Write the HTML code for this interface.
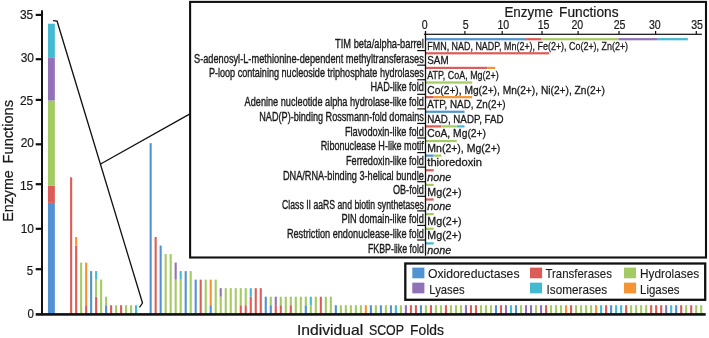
<!DOCTYPE html>
<html><head><meta charset="utf-8"><title>Enzyme functions per SCOP fold</title>
<style>html,body{margin:0;padding:0;background:#fff}svg{display:block}text{font-family:"Liberation Sans",sans-serif;stroke:#1a1a1a;stroke-width:.2px}</style></head>
<body>
<svg width="709" height="338" viewBox="0 0 709 338" fill="#1a1a1a">
<rect width="709" height="338" fill="#fff"/>
<rect x="47.95" y="202.86" width="6.9" height="111.64" fill="#5193D2"/>
<rect x="47.95" y="185.80" width="6.9" height="17.06" fill="#DC5C57"/>
<rect x="47.95" y="100.50" width="6.9" height="85.30" fill="#A4CA63"/>
<rect x="47.95" y="57.85" width="6.9" height="42.65" fill="#9172B7"/>
<rect x="47.95" y="23.73" width="6.9" height="34.12" fill="#43BAD1"/>
<rect x="70.10" y="177.27" width="2.1" height="137.23" fill="#DC5C57"/>
<rect x="75.10" y="245.51" width="2.1" height="68.99" fill="#DC5C57"/>
<rect x="75.10" y="236.98" width="2.1" height="8.53" fill="#F69433"/>
<rect x="80.09" y="262.57" width="2.1" height="51.93" fill="#A4CA63"/>
<rect x="85.09" y="305.22" width="2.1" height="9.28" fill="#DC5C57"/>
<rect x="85.09" y="262.57" width="2.1" height="42.65" fill="#F69433"/>
<rect x="90.08" y="271.10" width="2.1" height="43.40" fill="#5193D2"/>
<rect x="95.08" y="296.69" width="2.1" height="17.81" fill="#DC5C57"/>
<rect x="95.08" y="279.63" width="2.1" height="17.06" fill="#A4CA63"/>
<rect x="95.08" y="271.10" width="2.1" height="8.53" fill="#43BAD1"/>
<rect x="100.07" y="279.63" width="2.1" height="34.87" fill="#A4CA63"/>
<rect x="105.07" y="305.22" width="2.1" height="9.28" fill="#5193D2"/>
<rect x="105.07" y="296.69" width="2.1" height="8.53" fill="#A4CA63"/>
<rect x="110.06" y="305.22" width="2.1" height="9.28" fill="#DC5C57"/>
<rect x="115.06" y="305.22" width="2.1" height="9.28" fill="#A4CA63"/>
<rect x="120.05" y="305.22" width="2.1" height="9.28" fill="#DC5C57"/>
<rect x="125.05" y="305.22" width="2.1" height="9.28" fill="#A4CA63"/>
<rect x="130.04" y="305.22" width="2.1" height="9.28" fill="#A4CA63"/>
<rect x="135.03" y="305.22" width="2.1" height="9.28" fill="#43BAD1"/>
<rect x="149.60" y="143.15" width="2.1" height="171.35" fill="#5193D2"/>
<rect x="154.60" y="236.98" width="2.1" height="77.52" fill="#DC5C57"/>
<rect x="159.61" y="245.51" width="2.1" height="68.99" fill="#5193D2"/>
<rect x="164.62" y="254.04" width="2.1" height="60.46" fill="#A4CA63"/>
<rect x="169.62" y="254.04" width="2.1" height="60.46" fill="#A4CA63"/>
<rect x="174.62" y="279.63" width="2.1" height="34.87" fill="#A4CA63"/>
<rect x="174.62" y="262.57" width="2.1" height="17.06" fill="#9172B7"/>
<rect x="179.63" y="279.63" width="2.1" height="34.87" fill="#A4CA63"/>
<rect x="179.63" y="271.10" width="2.1" height="8.53" fill="#43BAD1"/>
<rect x="184.63" y="271.10" width="2.1" height="43.40" fill="#5193D2"/>
<rect x="189.64" y="271.10" width="2.1" height="43.40" fill="#A4CA63"/>
<rect x="194.64" y="279.63" width="2.1" height="34.87" fill="#5193D2"/>
<rect x="199.65" y="279.63" width="2.1" height="34.87" fill="#DC5C57"/>
<rect x="204.66" y="279.63" width="2.1" height="34.87" fill="#A4CA63"/>
<rect x="209.66" y="305.22" width="2.1" height="9.28" fill="#5193D2"/>
<rect x="209.66" y="279.63" width="2.1" height="25.59" fill="#F69433"/>
<rect x="214.66" y="279.63" width="2.1" height="34.87" fill="#A4CA63"/>
<rect x="219.67" y="296.69" width="2.1" height="17.81" fill="#A4CA63"/>
<rect x="219.67" y="288.16" width="2.1" height="8.53" fill="#9172B7"/>
<rect x="224.68" y="288.16" width="2.1" height="26.34" fill="#A4CA63"/>
<rect x="229.68" y="288.16" width="2.1" height="26.34" fill="#A4CA63"/>
<rect x="234.69" y="288.16" width="2.1" height="26.34" fill="#A4CA63"/>
<rect x="239.69" y="305.22" width="2.1" height="9.28" fill="#DC5C57"/>
<rect x="239.69" y="288.16" width="2.1" height="17.06" fill="#A4CA63"/>
<rect x="244.69" y="305.22" width="2.1" height="9.28" fill="#DC5C57"/>
<rect x="244.69" y="288.16" width="2.1" height="17.06" fill="#A4CA63"/>
<rect x="249.70" y="296.69" width="2.1" height="17.81" fill="#DC5C57"/>
<rect x="249.70" y="288.16" width="2.1" height="8.53" fill="#43BAD1"/>
<rect x="254.70" y="288.16" width="2.1" height="26.34" fill="#DC5C57"/>
<rect x="259.71" y="288.16" width="2.1" height="26.34" fill="#DC5C57"/>
<rect x="264.71" y="296.69" width="2.1" height="17.81" fill="#5193D2"/>
<rect x="269.72" y="305.22" width="2.1" height="9.28" fill="#5193D2"/>
<rect x="269.72" y="296.69" width="2.1" height="8.53" fill="#A4CA63"/>
<rect x="274.72" y="305.22" width="2.1" height="9.28" fill="#DC5C57"/>
<rect x="274.72" y="296.69" width="2.1" height="8.53" fill="#9172B7"/>
<rect x="279.73" y="305.22" width="2.1" height="9.28" fill="#DC5C57"/>
<rect x="279.73" y="296.69" width="2.1" height="8.53" fill="#A4CA63"/>
<rect x="284.73" y="296.69" width="2.1" height="17.81" fill="#A4CA63"/>
<rect x="289.74" y="305.22" width="2.1" height="9.28" fill="#DC5C57"/>
<rect x="289.74" y="296.69" width="2.1" height="8.53" fill="#A4CA63"/>
<rect x="294.75" y="296.69" width="2.1" height="17.81" fill="#A4CA63"/>
<rect x="299.75" y="296.69" width="2.1" height="17.81" fill="#A4CA63"/>
<rect x="304.75" y="305.22" width="2.1" height="9.28" fill="#5193D2"/>
<rect x="304.75" y="296.69" width="2.1" height="8.53" fill="#A4CA63"/>
<rect x="309.76" y="305.22" width="2.1" height="9.28" fill="#A4CA63"/>
<rect x="309.76" y="296.69" width="2.1" height="8.53" fill="#43BAD1"/>
<rect x="314.76" y="296.69" width="2.1" height="17.81" fill="#A4CA63"/>
<rect x="319.77" y="296.69" width="2.1" height="17.81" fill="#DC5C57"/>
<rect x="324.77" y="296.69" width="2.1" height="17.81" fill="#A4CA63"/>
<rect x="329.78" y="296.69" width="2.1" height="17.81" fill="#A4CA63"/>
<rect x="334.79" y="305.22" width="2.1" height="9.28" fill="#5193D2"/>
<rect x="339.79" y="305.22" width="2.1" height="9.28" fill="#A4CA63"/>
<rect x="344.80" y="305.22" width="2.1" height="9.28" fill="#A4CA63"/>
<rect x="349.80" y="305.22" width="2.1" height="9.28" fill="#A4CA63"/>
<rect x="354.81" y="305.22" width="2.1" height="9.28" fill="#A4CA63"/>
<rect x="359.81" y="305.22" width="2.1" height="9.28" fill="#A4CA63"/>
<rect x="364.81" y="305.22" width="2.1" height="9.28" fill="#F69433"/>
<rect x="369.82" y="305.22" width="2.1" height="9.28" fill="#5193D2"/>
<rect x="374.82" y="305.22" width="2.1" height="9.28" fill="#A4CA63"/>
<rect x="379.83" y="305.22" width="2.1" height="9.28" fill="#5193D2"/>
<rect x="384.83" y="305.22" width="2.1" height="9.28" fill="#A4CA63"/>
<rect x="389.84" y="305.22" width="2.1" height="9.28" fill="#5193D2"/>
<rect x="394.84" y="305.22" width="2.1" height="9.28" fill="#43BAD1"/>
<rect x="399.85" y="305.22" width="2.1" height="9.28" fill="#A4CA63"/>
<rect x="404.85" y="305.22" width="2.1" height="9.28" fill="#9172B7"/>
<rect x="409.86" y="305.22" width="2.1" height="9.28" fill="#DC5C57"/>
<rect x="414.86" y="305.22" width="2.1" height="9.28" fill="#DC5C57"/>
<rect x="419.87" y="305.22" width="2.1" height="9.28" fill="#5193D2"/>
<rect x="424.87" y="305.22" width="2.1" height="9.28" fill="#A4CA63"/>
<rect x="429.88" y="305.22" width="2.1" height="9.28" fill="#DC5C57"/>
<rect x="434.88" y="305.22" width="2.1" height="9.28" fill="#A4CA63"/>
<rect x="439.89" y="305.22" width="2.1" height="9.28" fill="#A4CA63"/>
<rect x="444.90" y="305.22" width="2.1" height="9.28" fill="#DC5C57"/>
<rect x="449.90" y="305.22" width="2.1" height="9.28" fill="#A4CA63"/>
<rect x="454.91" y="305.22" width="2.1" height="9.28" fill="#A4CA63"/>
<rect x="459.91" y="305.22" width="2.1" height="9.28" fill="#A4CA63"/>
<rect x="464.92" y="305.22" width="2.1" height="9.28" fill="#9172B7"/>
<rect x="469.92" y="305.22" width="2.1" height="9.28" fill="#DC5C57"/>
<rect x="474.93" y="305.22" width="2.1" height="9.28" fill="#DC5C57"/>
<rect x="479.93" y="305.22" width="2.1" height="9.28" fill="#A4CA63"/>
<rect x="484.94" y="305.22" width="2.1" height="9.28" fill="#A4CA63"/>
<rect x="489.94" y="305.22" width="2.1" height="9.28" fill="#A4CA63"/>
<rect x="494.94" y="305.22" width="2.1" height="9.28" fill="#5193D2"/>
<rect x="499.95" y="305.22" width="2.1" height="9.28" fill="#DC5C57"/>
<rect x="504.95" y="305.22" width="2.1" height="9.28" fill="#9172B7"/>
<rect x="509.96" y="305.22" width="2.1" height="9.28" fill="#43BAD1"/>
<rect x="514.97" y="305.22" width="2.1" height="9.28" fill="#5193D2"/>
<rect x="519.97" y="305.22" width="2.1" height="9.28" fill="#A4CA63"/>
<rect x="524.98" y="305.22" width="2.1" height="9.28" fill="#9172B7"/>
<rect x="529.98" y="305.22" width="2.1" height="9.28" fill="#9172B7"/>
<rect x="534.99" y="305.22" width="2.1" height="9.28" fill="#A4CA63"/>
<rect x="539.99" y="305.22" width="2.1" height="9.28" fill="#9172B7"/>
<rect x="545.00" y="305.22" width="2.1" height="9.28" fill="#DC5C57"/>
<rect x="550.00" y="305.22" width="2.1" height="9.28" fill="#A4CA63"/>
<rect x="555.00" y="305.22" width="2.1" height="9.28" fill="#A4CA63"/>
<rect x="560.01" y="305.22" width="2.1" height="9.28" fill="#A4CA63"/>
<rect x="565.01" y="305.22" width="2.1" height="9.28" fill="#F69433"/>
<rect x="570.02" y="305.22" width="2.1" height="9.28" fill="#DC5C57"/>
<rect x="575.03" y="305.22" width="2.1" height="9.28" fill="#A4CA63"/>
<rect x="580.03" y="305.22" width="2.1" height="9.28" fill="#A4CA63"/>
<rect x="585.04" y="305.22" width="2.1" height="9.28" fill="#A4CA63"/>
<rect x="590.04" y="305.22" width="2.1" height="9.28" fill="#A4CA63"/>
<rect x="595.05" y="305.22" width="2.1" height="9.28" fill="#F69433"/>
<rect x="600.05" y="305.22" width="2.1" height="9.28" fill="#43BAD1"/>
<rect x="605.06" y="305.22" width="2.1" height="9.28" fill="#DC5C57"/>
<rect x="610.06" y="305.22" width="2.1" height="9.28" fill="#5193D2"/>
<rect x="615.07" y="305.22" width="2.1" height="9.28" fill="#43BAD1"/>
<rect x="620.07" y="305.22" width="2.1" height="9.28" fill="#43BAD1"/>
<rect x="625.08" y="305.22" width="2.1" height="9.28" fill="#DC5C57"/>
<rect x="630.08" y="305.22" width="2.1" height="9.28" fill="#A4CA63"/>
<rect x="635.09" y="305.22" width="2.1" height="9.28" fill="#A4CA63"/>
<rect x="640.09" y="305.22" width="2.1" height="9.28" fill="#A4CA63"/>
<rect x="645.10" y="305.22" width="2.1" height="9.28" fill="#A4CA63"/>
<rect x="650.10" y="305.22" width="2.1" height="9.28" fill="#DC5C57"/>
<rect x="655.11" y="305.22" width="2.1" height="9.28" fill="#DC5C57"/>
<rect x="660.11" y="305.22" width="2.1" height="9.28" fill="#DC5C57"/>
<rect x="665.12" y="305.22" width="2.1" height="9.28" fill="#9172B7"/>
<rect x="670.12" y="305.22" width="2.1" height="9.28" fill="#43BAD1"/>
<rect x="675.12" y="305.22" width="2.1" height="9.28" fill="#5193D2"/>
<rect x="680.13" y="305.22" width="2.1" height="9.28" fill="#DC5C57"/>
<rect x="685.13" y="305.22" width="2.1" height="9.28" fill="#A4CA63"/>
<rect x="690.14" y="305.22" width="2.1" height="9.28" fill="#DC5C57"/>
<rect x="695.14" y="305.22" width="2.1" height="9.28" fill="#A4CA63"/>
<rect x="700.15" y="305.22" width="2.1" height="9.28" fill="#A4CA63"/>
<rect x="41" y="10.3" width="2" height="305" fill="#111"/>
<rect x="35.7" y="313.1" width="670" height="2.6" fill="#111"/>
<rect x="35.7" y="268.10" width="6" height="2.2" fill="#111"/>
<rect x="35.7" y="227.70" width="6" height="2.2" fill="#111"/>
<rect x="35.7" y="183.10" width="6" height="2.2" fill="#111"/>
<rect x="35.7" y="143.20" width="6" height="2.2" fill="#111"/>
<rect x="35.7" y="98.80" width="6" height="2.2" fill="#111"/>
<rect x="35.7" y="58.10" width="6" height="2.2" fill="#111"/>
<rect x="35.7" y="13.80" width="6" height="2.2" fill="#111"/>
<text x="27.60" y="318.05" font-size="13" textLength="6.4" lengthAdjust="spacingAndGlyphs">0</text>
<text x="26.80" y="275.35" font-size="13" textLength="6.4" lengthAdjust="spacingAndGlyphs">5</text>
<text x="20.70" y="232.65" font-size="13" textLength="13.3" lengthAdjust="spacingAndGlyphs">10</text>
<text x="19.90" y="189.95" font-size="13" textLength="13.3" lengthAdjust="spacingAndGlyphs">15</text>
<text x="20.70" y="147.25" font-size="13" textLength="13.3" lengthAdjust="spacingAndGlyphs">20</text>
<text x="19.90" y="104.55" font-size="13" textLength="13.3" lengthAdjust="spacingAndGlyphs">25</text>
<text x="20.70" y="61.85" font-size="13" textLength="13.3" lengthAdjust="spacingAndGlyphs">30</text>
<text x="19.90" y="19.15" font-size="13" textLength="13.3" lengthAdjust="spacingAndGlyphs">35</text>
<text transform="translate(12.8,221.8) rotate(-90)" font-size="14.6" style="stroke-width:0.22px"><tspan x="0" textLength="51.6" lengthAdjust="spacingAndGlyphs">Enzyme</tspan> <tspan x="58.4" textLength="63.4" lengthAdjust="spacingAndGlyphs">Functions</tspan></text>
<text y="334.7" font-size="14.2" style="stroke-width:0.22px"><tspan x="297.0" textLength="66.2" lengthAdjust="spacingAndGlyphs">Individual</tspan> <tspan x="368.9" textLength="34.9" lengthAdjust="spacingAndGlyphs">SCOP</tspan> <tspan x="410.1" textLength="33.9" lengthAdjust="spacingAndGlyphs">Folds</tspan></text>
<path d="M53.0 20.7 L57.1 21.2 L142.5 303.0 L139.5 307.4" fill="none" stroke="#111" stroke-width="1.3" stroke-linejoin="miter"/>
<path d="M100.6 164 L189.5 114.1" fill="none" stroke="#111" stroke-width="1.3"/>
<rect x="190.1" y="1.9" width="515.9" height="255.6" fill="#fff" stroke="#111" stroke-width="2.1"/>
<rect x="426.00" y="38.10" width="100.10" height="2.2" fill="#5193D2"/>
<rect x="526.10" y="38.10" width="15.40" height="2.2" fill="#DC5C57"/>
<rect x="541.50" y="38.10" width="77.00" height="2.2" fill="#A4CA63"/>
<rect x="618.50" y="38.10" width="38.50" height="2.2" fill="#9172B7"/>
<rect x="657.00" y="38.10" width="30.80" height="2.2" fill="#43BAD1"/>
<rect x="417.2" y="50.00" width="8.5" height="1.2" fill="#111"/>
<text x="335.1" y="48.15" font-size="12.8" style="stroke-width:0.38px" textLength="88.7" lengthAdjust="spacingAndGlyphs">TIM beta/alpha-barrel</text>
<text x="427.3" y="49.90" font-size="10.9" style="stroke-width:0.3px" textLength="200.8" lengthAdjust="spacingAndGlyphs">FMN, NAD, NADP, Mn(2+), Fe(2+), Co(2+), Zn(2+)</text>
<rect x="426.00" y="52.17" width="123.20" height="2.2" fill="#DC5C57"/>
<rect x="417.2" y="64.57" width="8.5" height="1.2" fill="#111"/>
<text x="194.0" y="62.76" font-size="12.8" style="stroke-width:0.38px" textLength="229.8" lengthAdjust="spacingAndGlyphs">S-adenosyl-L-methionine-dependent methyltransferases</text>
<text x="427.3" y="64.47" font-size="10.9" style="stroke-width:0.3px" textLength="21.3" lengthAdjust="spacingAndGlyphs">SAM</text>
<rect x="426.00" y="66.80" width="61.60" height="2.2" fill="#DC5C57"/>
<rect x="487.60" y="66.80" width="7.70" height="2.2" fill="#F69433"/>
<rect x="417.2" y="79.14" width="8.5" height="1.2" fill="#111"/>
<text x="208.9" y="77.37" font-size="12.8" style="stroke-width:0.38px" textLength="214.9" lengthAdjust="spacingAndGlyphs">P-loop containing nucleoside triphosphate hydrolases</text>
<text x="427.3" y="79.04" font-size="10.9" style="stroke-width:0.3px" textLength="71.4" lengthAdjust="spacingAndGlyphs">ATP, CoA, Mg(2+)</text>
<rect x="426.00" y="81.42" width="46.20" height="2.2" fill="#A4CA63"/>
<rect x="417.2" y="93.71" width="8.5" height="1.2" fill="#111"/>
<text x="370.5" y="91.48" font-size="12.8" style="stroke-width:0.38px" textLength="53.3" lengthAdjust="spacingAndGlyphs">HAD-like fold</text>
<text x="427.3" y="93.61" font-size="10.9" style="stroke-width:0.3px" textLength="177.6" lengthAdjust="spacingAndGlyphs">Co(2+), Mg(2+), Mn(2+), Ni(2+), Zn(2+)</text>
<rect x="426.00" y="96.05" width="7.70" height="2.2" fill="#DC5C57"/>
<rect x="433.70" y="96.05" width="38.50" height="2.2" fill="#F69433"/>
<rect x="417.2" y="108.28" width="8.5" height="1.2" fill="#111"/>
<text x="244.6" y="106.09" font-size="12.8" style="stroke-width:0.38px" textLength="179.2" lengthAdjust="spacingAndGlyphs">Adenine nucleotide alpha hydrolase-like fold</text>
<text x="427.3" y="108.18" font-size="10.9" style="stroke-width:0.3px" textLength="78.3" lengthAdjust="spacingAndGlyphs">ATP, NAD, Zn(2+)</text>
<rect x="426.00" y="110.67" width="38.50" height="2.2" fill="#5193D2"/>
<rect x="417.2" y="122.85" width="8.5" height="1.2" fill="#111"/>
<text x="259.3" y="121.20" font-size="12.8" style="stroke-width:0.38px" textLength="164.5" lengthAdjust="spacingAndGlyphs">NAD(P)-binding Rossmann-fold domains</text>
<text x="427.3" y="122.75" font-size="10.9" style="stroke-width:0.3px" textLength="76.3" lengthAdjust="spacingAndGlyphs">NAD, NADP, FAD</text>
<rect x="426.00" y="125.29" width="15.40" height="2.2" fill="#DC5C57"/>
<rect x="441.40" y="125.29" width="15.40" height="2.2" fill="#A4CA63"/>
<rect x="456.80" y="125.29" width="7.70" height="2.2" fill="#43BAD1"/>
<rect x="417.2" y="137.42" width="8.5" height="1.2" fill="#111"/>
<text x="344.9" y="135.81" font-size="12.8" style="stroke-width:0.38px" textLength="78.9" lengthAdjust="spacingAndGlyphs">Flavodoxin-like fold</text>
<text x="427.3" y="137.32" font-size="10.9" style="stroke-width:0.3px" textLength="58.7" lengthAdjust="spacingAndGlyphs">CoA, Mg(2+)</text>
<rect x="426.00" y="139.92" width="30.80" height="2.2" fill="#A4CA63"/>
<rect x="417.2" y="151.99" width="8.5" height="1.2" fill="#111"/>
<text x="320.8" y="150.42" font-size="12.8" style="stroke-width:0.38px" textLength="103.0" lengthAdjust="spacingAndGlyphs">Ribonuclease H-like motif</text>
<text x="427.3" y="151.89" font-size="10.9" style="stroke-width:0.3px" textLength="73.0" lengthAdjust="spacingAndGlyphs">Mn(2+), Mg(2+)</text>
<rect x="426.00" y="154.54" width="7.70" height="2.2" fill="#5193D2"/>
<rect x="433.70" y="154.54" width="7.70" height="2.2" fill="#A4CA63"/>
<rect x="417.2" y="166.56" width="8.5" height="1.2" fill="#111"/>
<text x="346.0" y="165.03" font-size="12.8" style="stroke-width:0.38px" textLength="77.8" lengthAdjust="spacingAndGlyphs">Ferredoxin-like fold</text>
<text x="427.3" y="166.46" font-size="10.9" style="stroke-width:0.3px" textLength="54.7" lengthAdjust="spacingAndGlyphs">thioredoxin</text>
<rect x="426.00" y="169.17" width="7.70" height="2.2" fill="#DC5C57"/>
<rect x="417.2" y="181.13" width="8.5" height="1.2" fill="#111"/>
<text x="282.9" y="179.64" font-size="12.8" style="stroke-width:0.38px" textLength="140.9" lengthAdjust="spacingAndGlyphs">DNA/RNA-binding 3-helical bundle</text>
<text x="427.3" y="181.03" font-size="10.9" style="stroke-width:0.3px" font-style="italic" textLength="24.0" lengthAdjust="spacingAndGlyphs">none</text>
<rect x="426.00" y="183.79" width="7.70" height="2.2" fill="#A4CA63"/>
<rect x="417.2" y="195.70" width="8.5" height="1.2" fill="#111"/>
<text x="393.0" y="194.25" font-size="12.8" style="stroke-width:0.38px" textLength="30.8" lengthAdjust="spacingAndGlyphs">OB-fold</text>
<text x="427.3" y="195.60" font-size="10.9" style="stroke-width:0.3px" textLength="34.2" lengthAdjust="spacingAndGlyphs">Mg(2+)</text>
<rect x="426.00" y="198.41" width="7.70" height="2.2" fill="#DC5C57"/>
<rect x="417.2" y="210.27" width="8.5" height="1.2" fill="#111"/>
<text x="282.1" y="208.86" font-size="12.8" style="stroke-width:0.38px" textLength="141.7" lengthAdjust="spacingAndGlyphs">Class II aaRS and biotin synthetases</text>
<text x="427.3" y="210.17" font-size="10.9" style="stroke-width:0.3px" font-style="italic" textLength="24.0" lengthAdjust="spacingAndGlyphs">none</text>
<rect x="426.00" y="213.04" width="7.70" height="2.2" fill="#A4CA63"/>
<rect x="417.2" y="224.84" width="8.5" height="1.2" fill="#111"/>
<text x="341.4" y="223.47" font-size="12.8" style="stroke-width:0.38px" textLength="82.4" lengthAdjust="spacingAndGlyphs">PIN domain-like fold</text>
<text x="427.3" y="224.74" font-size="10.9" style="stroke-width:0.3px" textLength="34.2" lengthAdjust="spacingAndGlyphs">Mg(2+)</text>
<rect x="426.00" y="227.66" width="7.70" height="2.2" fill="#A4CA63"/>
<rect x="417.2" y="239.41" width="8.5" height="1.2" fill="#111"/>
<text x="286.9" y="238.08" font-size="12.8" style="stroke-width:0.38px" textLength="136.9" lengthAdjust="spacingAndGlyphs">Restriction endonuclease-like fold</text>
<text x="427.3" y="239.31" font-size="10.9" style="stroke-width:0.3px" textLength="34.2" lengthAdjust="spacingAndGlyphs">Mg(2+)</text>
<rect x="426.00" y="242.29" width="7.70" height="2.2" fill="#43BAD1"/>
<text x="367.9" y="252.69" font-size="12.8" style="stroke-width:0.38px" textLength="55.9" lengthAdjust="spacingAndGlyphs">FKBP-like fold</text>
<text x="427.3" y="253.88" font-size="10.9" style="stroke-width:0.3px" font-style="italic" textLength="24.0" lengthAdjust="spacingAndGlyphs">none</text>
<rect x="424.85" y="31" width="1.3" height="224.7" fill="#111"/>
<rect x="423.9" y="33.7" width="278" height="1.2" fill="#111"/>
<text x="421.85" y="29.1" font-size="12" textLength="5.9" lengthAdjust="spacingAndGlyphs">0</text>
<rect x="464.30" y="31" width="1.2" height="3" fill="#111"/>
<text x="462.65" y="29.1" font-size="12" textLength="5.9" lengthAdjust="spacingAndGlyphs">5</text>
<rect x="501.60" y="31" width="1.2" height="3" fill="#111"/>
<text x="497.40" y="29.1" font-size="12" textLength="11.8" lengthAdjust="spacingAndGlyphs">10</text>
<rect x="541.40" y="31" width="1.2" height="3" fill="#111"/>
<text x="537.70" y="29.1" font-size="12" textLength="11.8" lengthAdjust="spacingAndGlyphs">15</text>
<rect x="577.50" y="31" width="1.2" height="3" fill="#111"/>
<text x="571.40" y="29.1" font-size="12" textLength="11.8" lengthAdjust="spacingAndGlyphs">20</text>
<rect x="618.40" y="31" width="1.2" height="3" fill="#111"/>
<text x="613.70" y="29.1" font-size="12" textLength="11.8" lengthAdjust="spacingAndGlyphs">25</text>
<rect x="655.00" y="31" width="1.2" height="3" fill="#111"/>
<text x="648.90" y="29.1" font-size="12" textLength="11.8" lengthAdjust="spacingAndGlyphs">30</text>
<rect x="695.70" y="31" width="1.2" height="3" fill="#111"/>
<text x="691.20" y="29.1" font-size="12" textLength="11.8" lengthAdjust="spacingAndGlyphs">35</text>
<text y="16.5" font-size="14.2" style="stroke-width:0.22px"><tspan x="504.4" textLength="48.5" lengthAdjust="spacingAndGlyphs">Enzyme</tspan> <tspan x="559.1" textLength="59.4" lengthAdjust="spacingAndGlyphs">Functions</tspan></text>
<rect x="405.3" y="263.5" width="299.9" height="36.3" fill="#fff" stroke="#111" stroke-width="2.3"/>
<rect x="412.3" y="267.6" width="12.1" height="10.7" fill="#5193D2"/>
<text x="427.9" y="277.7" font-size="13.4" style="stroke-width:0.12px" textLength="91.6" lengthAdjust="spacingAndGlyphs">Oxidoreductases</text>
<rect x="412.3" y="282.65" width="12.1" height="10.7" fill="#9172B7"/>
<text x="429.3" y="293.9" font-size="13.4" style="stroke-width:0.12px" textLength="35.3" lengthAdjust="spacingAndGlyphs">Lyases</text>
<rect x="530.0" y="267.6" width="12.1" height="10.7" fill="#DC5C57"/>
<text x="545.4" y="277.7" font-size="13.4" style="stroke-width:0.12px" textLength="66.5" lengthAdjust="spacingAndGlyphs">Transferases</text>
<rect x="530.0" y="282.65" width="12.1" height="10.7" fill="#43BAD1"/>
<text x="546.6" y="293.9" font-size="13.4" style="stroke-width:0.12px" textLength="60.6" lengthAdjust="spacingAndGlyphs">Isomerases</text>
<rect x="624.0" y="267.6" width="12.1" height="10.7" fill="#A4CA63"/>
<text x="640.1" y="277.7" font-size="13.4" style="stroke-width:0.12px" textLength="59.0" lengthAdjust="spacingAndGlyphs">Hydrolases</text>
<rect x="624.0" y="282.65" width="12.1" height="10.7" fill="#F69433"/>
<text x="640.1" y="293.9" font-size="13.4" style="stroke-width:0.12px" textLength="39.4" lengthAdjust="spacingAndGlyphs">Ligases</text>
</svg>
</body></html>
